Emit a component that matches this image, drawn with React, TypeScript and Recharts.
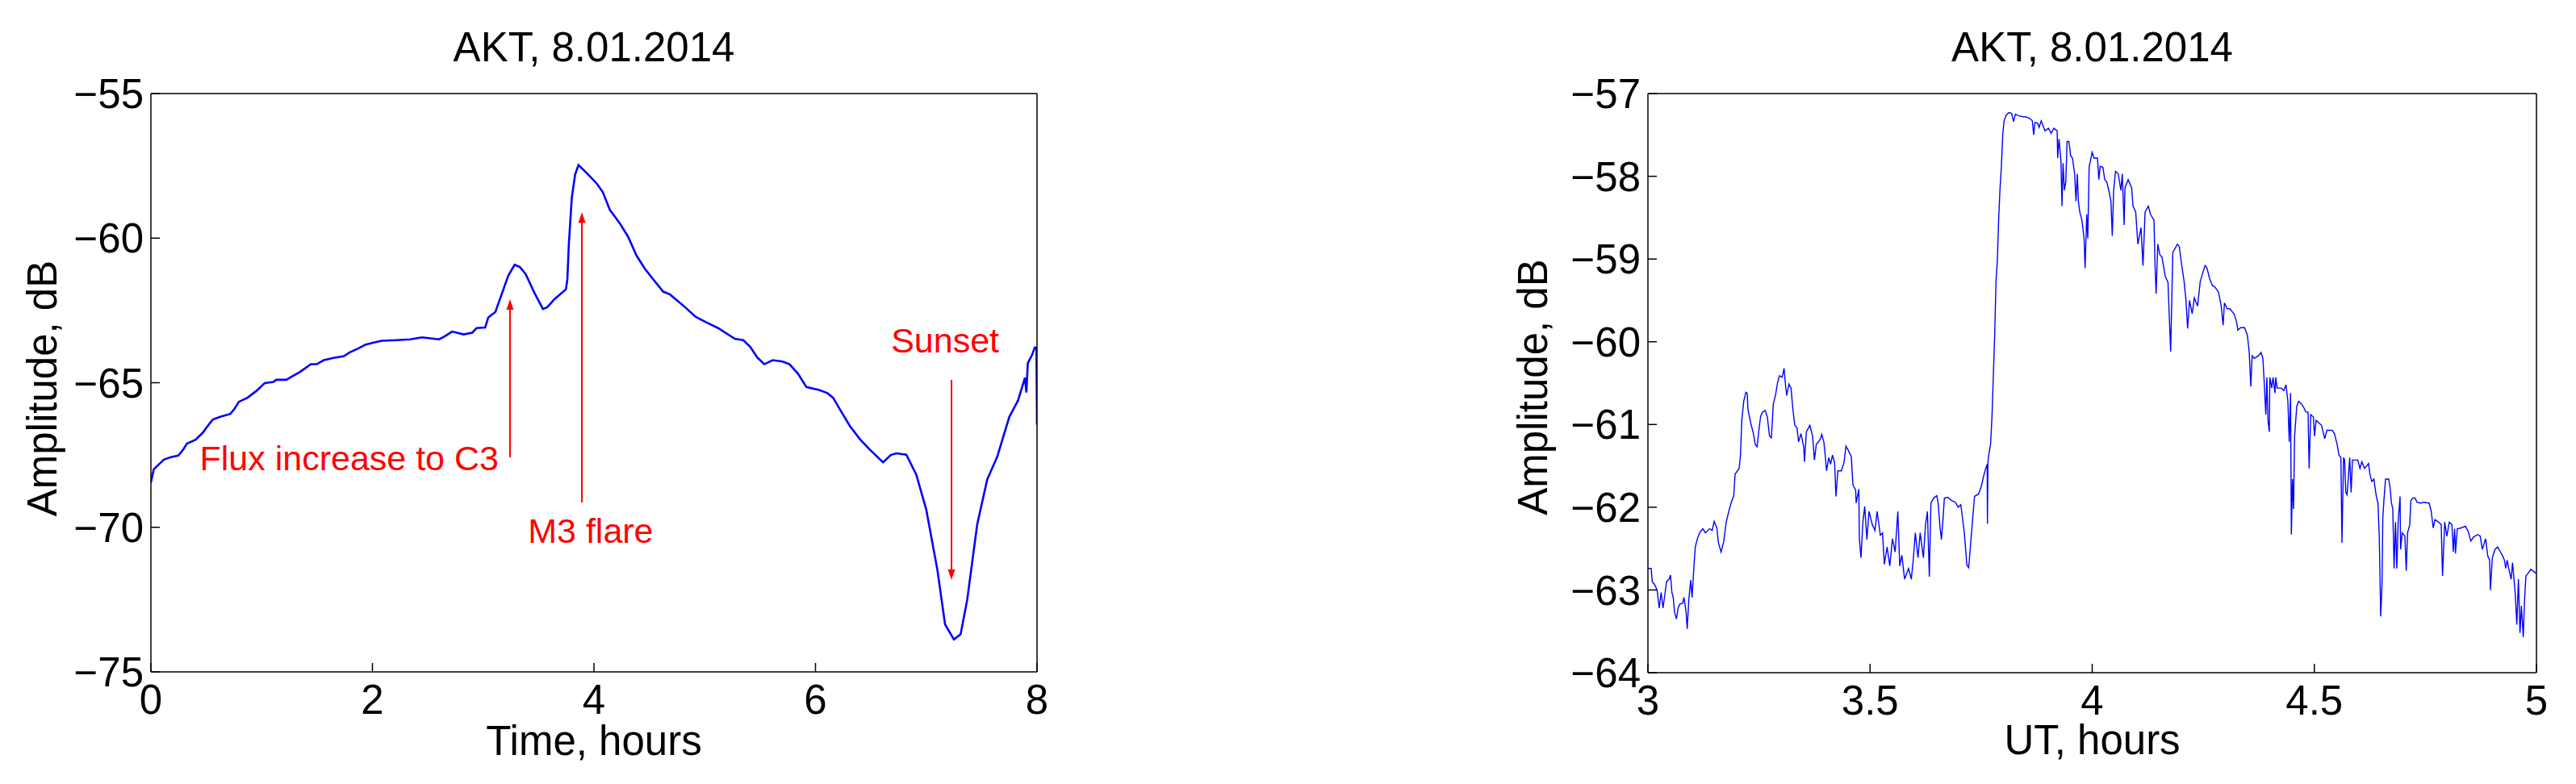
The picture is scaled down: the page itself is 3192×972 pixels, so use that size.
import React from 'react';
import { LineChart, Line, XAxis, YAxis, Label, ReferenceLine, ReferenceDot } from 'recharts';

document.body.style.margin = '0';

const FONT = '"Liberation Sans", Arial, Helvetica, sans-serif';

// left panel: whole evening, smooth curve
const leftHours = [
  0.0, 0.026, 0.065, 0.117, 0.182, 0.247, 0.286, 0.325, 0.403, 0.468, 0.52, 0.559, 0.625, 0.716, 0.755,
  0.794, 0.872, 0.95, 1.028, 1.106, 1.132, 1.223, 1.275, 1.34, 1.392, 1.444, 1.496, 1.561, 1.639, 1.743,
  1.795, 1.874, 1.939, 2.004, 2.082, 2.212, 2.342, 2.446, 2.602, 2.654, 2.719, 2.823, 2.901, 2.94, 3.018,
  3.045, 3.11, 3.162, 3.227, 3.284, 3.331, 3.383, 3.461, 3.539, 3.578, 3.643, 3.747, 3.76, 3.773, 3.8, 3.83,
  3.86, 3.9, 3.96, 4.029, 4.08, 4.143, 4.232, 4.308, 4.384, 4.46, 4.536, 4.625, 4.688, 4.752, 4.815, 4.917,
  5.018, 5.12, 5.272, 5.348, 5.411, 5.475, 5.538, 5.614, 5.703, 5.766, 5.842, 5.918, 6.032, 6.108, 6.159,
  6.223, 6.311, 6.4, 6.49, 6.61, 6.68, 6.73, 6.82, 6.91, 7.0, 7.1, 7.17, 7.25, 7.31, 7.37, 7.46, 7.55, 7.64,
  7.75, 7.828, 7.891, 7.904, 7.917, 7.955, 7.98, 7.995, 8.0,
];
const leftAmp = [
  -68.45, -67.99, -67.85, -67.66, -67.57, -67.52, -67.34, -67.11, -66.97, -66.73, -66.46, -66.27, -66.18,
  -66.08, -65.9, -65.66, -65.52, -65.29, -65.01, -64.97, -64.9, -64.9, -64.78, -64.64, -64.5, -64.36,
  -64.36, -64.22, -64.15, -64.08, -63.95, -63.81, -63.68, -63.62, -63.55, -63.53, -63.5, -63.43, -63.5,
  -63.39, -63.23, -63.33, -63.27, -63.11, -63.09, -62.75, -62.55, -61.99, -61.29, -60.92, -61.0, -61.24,
  -61.88, -62.45, -62.39, -62.11, -61.77, -61.42, -60.22, -58.6, -57.8, -57.47, -57.62, -57.85, -58.13,
  -58.41, -59.02, -59.48, -59.95, -60.6, -61.06, -61.43, -61.85, -61.95, -62.16, -62.36, -62.72, -62.92,
  -63.11, -63.48, -63.53, -63.76, -64.13, -64.36, -64.22, -64.27, -64.36, -64.69, -65.15, -65.25, -65.36,
  -65.52, -65.94, -66.5, -66.95, -67.31, -67.75, -67.5, -67.44, -67.49, -68.18, -69.39, -71.46, -73.36,
  -73.88, -73.7, -72.5, -69.9, -68.35, -67.57, -66.18, -65.62, -64.83, -65.34, -64.32, -64.04, -63.78,
  -63.78, -66.45,
];
const leftTicksX = [0, 2, 4, 6, 8];
const leftTicksY = [-75, -70, -65, -60, -55];

// annotations on the left panel: [x, tail y, head y]
const arrowX = [3.242, 3.891, 7.228];
const arrowTail = [-67.58, -69.14, -64.9];
const arrowHead = [-62.11, -59.11, -71.82];
const noteText = ['Flux increase to C3', 'M3 flare', 'Sunset'];
const noteX = [3.14, 3.97, 7.17];
const noteY = [-68.03, -70.54, -63.95];
const noteAnchor = ['end', 'middle', 'middle'];

// right panel: 3-5 UT zoom, noisy
const rightHours = [
  3.0, 3.0073, 3.0097, 3.0145, 3.0206, 3.0254, 3.0297, 3.0339, 3.0388, 3.0418, 3.0478, 3.0509, 3.0539,
  3.0569, 3.0599, 3.0642, 3.0678, 3.0721, 3.0781, 3.0811, 3.086, 3.0884, 3.092, 3.0963, 3.0993, 3.1041,
  3.1066, 3.1114, 3.1163, 3.1235, 3.1296, 3.1387, 3.1447, 3.149, 3.155, 3.1586, 3.1647, 3.1708, 3.1762,
  3.1811, 3.1871, 3.1932, 3.1962, 3.2053, 3.2083, 3.2113, 3.2156, 3.2204, 3.2234, 3.2252, 3.2313, 3.2374,
  3.2416, 3.2458, 3.2495, 3.2537, 3.2579, 3.264, 3.2688, 3.2737, 3.2779, 3.2822, 3.287, 3.2919, 3.2961,
  3.3021, 3.3064, 3.31, 3.3124, 3.3173, 3.3221, 3.3264, 3.3306, 3.3355, 3.3391, 3.3445, 3.3506, 3.3524,
  3.3566, 3.3645, 3.3706, 3.3748, 3.379, 3.3839, 3.3887, 3.3912, 3.396, 3.399, 3.4021, 3.4069, 3.4111,
  3.4154, 3.4202, 3.4232, 3.4275, 3.4354, 3.4414, 3.4457, 3.4517, 3.4578, 3.4614, 3.4675, 3.4687, 3.4747,
  3.4759, 3.4796, 3.4838, 3.488, 3.4929, 3.4977, 3.505, 3.511, 3.5159, 3.5232, 3.528, 3.5322, 3.5383,
  3.5444, 3.5504, 3.5565, 3.5625, 3.5668, 3.5716, 3.5777, 3.5867, 3.5928, 3.597, 3.6019, 3.6079, 3.6128,
  3.62, 3.6249, 3.6291, 3.6334, 3.637, 3.6431, 3.6503, 3.6533, 3.6576, 3.6606, 3.6637, 3.6673, 3.6745,
  3.6836, 3.6922, 3.6983, 3.7043, 3.712, 3.718, 3.722, 3.727, 3.7351, 3.7442, 3.7502, 3.7563, 3.7593,
  3.7636, 3.7642, 3.7654, 3.7666, 3.7714, 3.7745, 3.7775, 3.7805, 3.7835, 3.7866, 3.7896, 3.7926, 3.7956,
  3.7987, 3.8017, 3.8065, 3.8126, 3.8186, 3.8229, 3.8271, 3.835, 3.8441, 3.8501, 3.8592, 3.8653, 3.8683,
  3.8713, 3.8774, 3.8804, 3.8852, 3.8894, 3.8937, 3.9016, 3.9076, 3.9137, 3.9211, 3.9223, 3.9253, 3.9296,
  3.932, 3.9344, 3.9374, 3.9405, 3.9435, 3.9477, 3.9514, 3.9556, 3.9605, 3.9635, 3.9665, 3.9689, 3.972,
  3.9768, 3.9817, 3.9841, 3.9877, 3.9901, 3.9932, 3.9962, 3.9998, 4.0041, 4.0119, 4.015, 4.018, 4.024,
  4.0283, 4.0331, 4.0374, 4.0422, 4.0452, 4.0483, 4.0525, 4.0586, 4.0646, 4.0677, 4.0719, 4.0737, 4.081,
  4.0888, 4.0919, 4.0979, 4.1028, 4.11, 4.1143, 4.1191, 4.1264, 4.1312, 4.1391, 4.1415, 4.1439, 4.1476,
  4.1524, 4.1572, 4.1645, 4.1706, 4.1766, 4.1815, 4.1857, 4.1918, 4.196, 4.2008, 4.2069, 4.2111, 4.2148,
  4.219, 4.2251, 4.2299, 4.2372, 4.2432, 4.2481, 4.2541, 4.2584, 4.2644, 4.2705, 4.2765, 4.2844, 4.2905,
  4.2947, 4.2977, 4.3038, 4.3098, 4.3189, 4.325, 4.328, 4.334, 4.3431, 4.3492, 4.3534, 4.357, 4.36, 4.3648,
  4.3739, 4.38, 4.3842, 4.3866, 4.389, 4.3908, 4.3932, 4.3957, 4.3987, 4.3999, 4.4041, 4.4072, 4.4114,
  4.4132, 4.4163, 4.4254, 4.4314, 4.4362, 4.4405, 4.4435, 4.4465, 4.4483, 4.4508, 4.4532, 4.4556, 4.4605,
  4.4647, 4.4708, 4.4768, 4.481, 4.4859, 4.4883, 4.4919, 4.498, 4.5004, 4.504, 4.5101, 4.5162, 4.5234,
  4.5283, 4.5404, 4.5452, 4.5513, 4.5555, 4.5598, 4.5622, 4.5658, 4.5682, 4.5707, 4.5737, 4.5767, 4.5797,
  4.5828, 4.5858, 4.5979, 4.6027, 4.607, 4.613, 4.6179, 4.6221, 4.6251, 4.6294, 4.6342, 4.6373, 4.6403,
  4.6433, 4.6463, 4.6494, 4.6524, 4.6542, 4.6566, 4.6603, 4.6675, 4.6705, 4.6736, 4.6766, 4.6796, 4.6827,
  4.6857, 4.6887, 4.693, 4.6942, 4.6978, 4.7039, 4.7069, 4.7099, 4.7148, 4.7172, 4.722, 4.7269, 4.7311,
  4.7402, 4.7463, 4.7584, 4.7632, 4.7675, 4.7717, 4.7796, 4.7856, 4.7886, 4.7935, 4.7983, 4.8038, 4.8098,
  4.8128, 4.8159, 4.8177, 4.8219, 4.831, 4.8401, 4.8462, 4.8522, 4.8583, 4.8674, 4.8734, 4.8783, 4.8855,
  4.8904, 4.8946, 4.8964, 4.9007, 4.9067, 4.9128, 4.9188, 4.9231, 4.9279, 4.9309, 4.934, 4.9388, 4.9431,
  4.9461, 4.9521, 4.9558, 4.9594, 4.963, 4.9661, 4.9703, 4.9733, 4.9763, 4.9812, 4.9873, 4.9945, 5.0,
];
const rightAmp = [
  -62.74, -62.74, -62.9, -62.93, -63.0, -63.22, -63.03, -63.22, -63.03, -62.9, -62.87, -62.82, -63.03,
  -63.09, -63.27, -63.35, -63.22, -63.17, -63.16, -63.09, -63.27, -63.47, -63.12, -62.88, -63.09, -62.67,
  -62.48, -62.38, -62.31, -62.26, -62.31, -62.26, -62.28, -62.17, -62.25, -62.43, -62.54, -62.41, -62.18,
  -62.07, -61.95, -61.86, -61.6, -61.53, -61.37, -60.95, -60.72, -60.61, -60.62, -60.82, -60.98, -61.11,
  -61.24, -61.27, -61.08, -60.9, -60.85, -60.83, -60.91, -61.14, -61.16, -60.75, -60.65, -60.49, -60.41,
  -60.43, -60.32, -60.54, -60.65, -60.51, -60.56, -60.82, -61.01, -61.04, -61.21, -61.11, -61.27, -61.45,
  -61.09, -61.01, -61.14, -61.43, -61.24, -61.21, -61.17, -61.12, -61.21, -61.37, -61.56, -61.4, -61.48,
  -61.37, -61.46, -61.87, -61.56, -61.56, -61.46, -61.26, -61.32, -61.39, -61.73, -61.79, -61.95, -61.78,
  -62.38, -62.61, -62.18, -61.99, -62.39, -62.05, -62.21, -62.28, -62.05, -62.34, -62.31, -62.69, -62.48,
  -62.71, -62.38, -62.54, -62.05, -62.71, -62.58, -62.87, -62.74, -62.87, -62.65, -62.31, -62.61, -62.31,
  -62.61, -62.21, -62.05, -62.84, -61.95, -61.89, -61.86, -61.95, -62.25, -62.39, -62.18, -61.89, -61.88,
  -61.92, -61.94, -62.0, -61.97, -62.3, -62.7, -62.73, -62.4, -61.87, -61.84, -61.75, -61.61, -61.55,
  -61.48, -62.2, -61.45, -61.39, -61.23, -60.9, -60.41, -59.92, -59.27, -59.01, -58.5, -58.14, -57.88,
  -57.49, -57.33, -57.26, -57.23, -57.24, -57.34, -57.25, -57.27, -57.28, -57.28, -57.3, -57.33, -57.5,
  -57.35, -57.36, -57.41, -57.33, -57.39, -57.45, -57.42, -57.48, -57.42, -57.45, -57.78, -57.55, -57.81,
  -58.36, -57.84, -58.17, -58.07, -57.58, -57.58, -57.75, -57.78, -57.97, -58.3, -57.97, -58.3, -58.43,
  -58.53, -58.75, -59.11, -58.46, -58.75, -57.88, -57.81, -57.71, -57.78, -57.78, -58.04, -57.88, -57.89,
  -58.04, -58.07, -58.17, -58.3, -58.72, -58.17, -57.94, -57.97, -58.17, -57.97, -58.59, -58.14, -58.04,
  -58.14, -58.36, -58.43, -58.82, -58.62, -59.08, -58.43, -58.36, -58.46, -58.53, -59.08, -59.42, -58.82,
  -58.95, -58.98, -59.21, -59.28, -60.12, -58.92, -58.88, -58.82, -58.85, -59.05, -59.27, -59.5, -59.84,
  -59.5, -59.66, -59.47, -59.57, -59.27, -59.18, -59.08, -59.11, -59.24, -59.32, -59.34, -59.4, -59.57,
  -59.8, -59.53, -59.6, -59.6, -59.66, -59.76, -59.86, -59.83, -59.83, -59.92, -60.12, -60.54, -60.17, -60.2,
  -60.17, -60.13, -60.2, -60.43, -60.69, -60.88, -60.43, -60.95, -61.09, -60.43, -60.56, -60.43, -60.62,
  -60.43, -60.56, -60.56, -60.59, -60.52, -60.72, -61.21, -60.62, -62.33, -61.66, -62.02, -61.14, -60.78,
  -60.72, -60.75, -60.8, -60.85, -60.85, -61.53, -60.88, -60.91, -61.14, -60.95, -60.98, -61.01, -61.17,
  -61.07, -61.07, -61.11, -61.24, -61.37, -61.4, -62.43, -61.4, -61.43, -61.82, -61.85, -61.63, -61.4,
  -61.82, -61.43, -61.43, -61.53, -61.45, -61.53, -61.5, -61.47, -61.6, -61.69, -61.66, -61.79, -61.89,
  -61.95, -62.38, -63.32, -62.93, -62.12, -61.92, -61.66, -61.66, -61.76, -61.95, -62.02, -62.74, -62.18,
  -62.74, -62.18, -61.87, -62.51, -62.31, -62.35, -62.77, -62.31, -62.21, -61.92, -61.89, -61.89, -61.94,
  -61.95, -61.94, -61.95, -62.05, -62.25, -62.15, -62.18, -62.21, -62.83, -62.18, -62.35, -62.18, -62.21,
  -62.54, -62.26, -62.56, -62.26, -62.25, -62.23, -62.29, -62.41, -62.36, -62.33, -62.35, -62.51, -62.38,
  -62.59, -62.64, -63.0, -62.61, -62.51, -62.48, -62.54, -62.58, -62.64, -62.74, -62.64, -62.77, -62.87,
  -62.67, -63.03, -63.42, -62.87, -63.52, -63.19, -63.57, -63.11, -62.83, -62.8, -62.75, -62.78, -62.8,
];
const rightTicksX = [3, 3.5, 4, 4.5, 5];
const rightTicksY = [-64, -63, -62, -61, -60, -59, -58, -57];

const leftData = leftHours.map((t, i) => ({ t, a: leftAmp[i] }));
const rightData = rightHours.map((t, i) => ({ t, a: rightAmp[i] }));

const minus = (v: number) => String(v).replace('-', '\u2212');
const tickStyle = { fontSize: 51, fontFamily: FONT, fill: '#000' };

const hTitle = (text: string, dy: number) => (p: any) => {
  const vb = p.viewBox;
  return (
    <text x={vb.x + vb.width / 2} y={vb.y + dy} textAnchor="middle" fontSize={51} fontFamily={FONT} fill="#000">
      {text}
    </text>
  );
};

const vTitle = (text: string, dx: number, dy: number) => (p: any) => {
  const vb = p.viewBox;
  const x = vb.x + vb.width + dx;
  const y = vb.y + vb.height / 2 + dy;
  return (
    <text x={x} y={y} transform={`rotate(-90 ${x} ${y})`} textAnchor="middle" fontSize={51} fontFamily={FONT} fill="#000">
      {text}
    </text>
  );
};

const RedArrow = (p: any) => {
  const { x1, y1, x2, y2 } = p;
  const dir = y2 < y1 ? 1 : -1;
  const len = 13;
  const half = 4.5;
  return (
    <g>
      <line x1={x1} y1={y1} x2={x2} y2={y2 + dir * len * 0.6} stroke="#ff0000" strokeWidth={2} />
      <polygon points={`${x2},${y2} ${x2 - half},${y2 + dir * len} ${x2 + half},${y2 + dir * len}`} fill="#ff0000" />
    </g>
  );
};

const noteShape = (text: string, anchor: string) => (p: any) => (
  <text x={p.cx} y={p.cy} textAnchor={anchor as any} fontSize={43} fontFamily={FONT} fill="#ff0000">
    {text}
  </text>
);

const axisLine = { stroke: '#000', strokeWidth: 1.5 };
const tickLine = { stroke: '#000', strokeWidth: 1.5 };

const Panel = (props: {
  data: { t: number; a: number }[];
  width: number;
  margin: any;
  xDomain: number[];
  yDomain: number[];
  xTicks: number[];
  yTicks: number[];
  xTitle: string;
  xTitleDy: number;
  yTitleDx: number;
  yTitleDy: number;
  strokeWidth: number;
  children?: React.ReactNode;
}) => (
  <LineChart width={props.width} height={972} data={props.data} margin={props.margin}>
    <XAxis
      dataKey="t"
      type="number"
      domain={props.xDomain}
      ticks={props.xTicks}
      allowDataOverflow
      height={60}
      tickSize={-11}
      tickMargin={27}
      axisLine={axisLine}
      tickLine={tickLine}
      tick={tickStyle}
      interval={0}
    >
      <Label content={hTitle(props.xTitle, props.xTitleDy)} />
    </XAxis>
    <XAxis
      xAxisId="top"
      dataKey="t"
      orientation="top"
      type="number"
      domain={props.xDomain}
      ticks={props.xTicks}
      allowDataOverflow
      height={1}
      tickSize={-11}
      axisLine={axisLine}
      tickLine={tickLine}
      tick={false}
      interval={0}
    >
      <Label content={hTitle('AKT, 8.01.2014', -39)} />
    </XAxis>
    <YAxis
      type="number"
      domain={props.yDomain}
      ticks={props.yTicks}
      allowDataOverflow
      width={60}
      tickSize={-11}
      tickMargin={20}
      axisLine={axisLine}
      tickLine={tickLine}
      tick={tickStyle}
      tickFormatter={minus}
      interval={0}
    >
      <Label content={vTitle('Amplitude, dB', props.yTitleDx, props.yTitleDy)} />
    </YAxis>
    <YAxis
      yAxisId="right"
      orientation="right"
      type="number"
      domain={props.yDomain}
      ticks={props.yTicks}
      allowDataOverflow
      width={1}
      tickSize={-11}
      axisLine={axisLine}
      tickLine={tickLine}
      tick={false}
      interval={0}
    />
    {/* invisible twin so the top / right box axes get drawn */}
    <Line
      xAxisId="top"
      yAxisId="right"
      type="linear"
      dataKey="a"
      stroke="none"
      strokeWidth={0}
      dot={false}
      activeDot={false}
      isAnimationActive={false}
    />
    <Line
      type="linear"
      dataKey="a"
      stroke="#0000ff"
      strokeWidth={props.strokeWidth}
      dot={false}
      isAnimationActive={false}
    />
    {props.children}
  </LineChart>
);

export default function App() {
  return (
    <div style={{ position: 'relative', width: 3192, height: 972, background: '#fff', overflow: 'hidden' }}>
      <div style={{ position: 'absolute', left: 0, top: 0 }}>
        <Panel
          data={leftData}
          width={1300}
          margin={{ top: 115, right: 14, bottom: 79, left: 127 }}
          xDomain={[0, 8]}
          yDomain={[-75, -55]}
          xTicks={leftTicksX}
          yTicks={leftTicksY}
          xTitle="Time, hours"
          xTitleDy={103}
          yTitleDx={-117}
          yTitleDy={7}
          strokeWidth={2.6}
        >
          {arrowX.map((x, i) => (
            <ReferenceLine
              key={`arrow-${i}`}
              segment={[
                { x, y: arrowTail[i] },
                { x, y: arrowHead[i] },
              ]}
              shape={RedArrow}
            />
          ))}
          {noteText.map((text, i) => (
            <ReferenceDot key={`note-${i}`} x={noteX[i]} y={noteY[i]} r={1} shape={noteShape(text, noteAnchor[i])} />
          ))}
        </Panel>
      </div>
      <div style={{ position: 'absolute', left: 1800, top: 0 }}>
        <Panel
          data={rightData}
          width={1392}
          margin={{ top: 115, right: 48, bottom: 78, left: 182 }}
          xDomain={[3, 5]}
          yDomain={[-64, -57]}
          xTicks={rightTicksX}
          yTicks={rightTicksY}
          xTitle="UT, hours"
          xTitleDy={101}
          yTitleDx={-125}
          yTitleDy={5}
          strokeWidth={1.4}
        />
      </div>
    </div>
  );
}
